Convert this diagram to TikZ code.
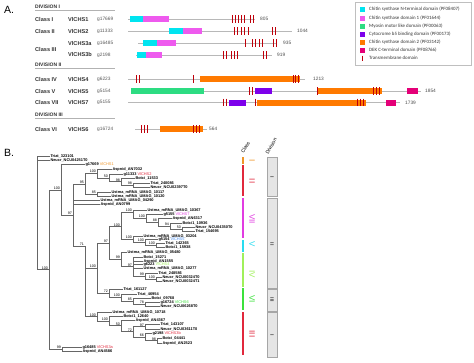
\documentclass[tikz,border=0pt]{standalone}
\usepackage{fontspec}
\setmainfont{Liberation Sans}
\newfontfamily\calib{Carlito}
\definecolor{dcyan}{RGB}{0,228,240}
\definecolor{dmag}{RGB}{238,90,238}
\definecolor{dgreen}{RGB}{45,220,130}
\definecolor{dpurp}{RGB}{125,0,235}
\definecolor{dorange}{RGB}{255,122,0}
\definecolor{dpink}{RGB}{228,0,120}
\definecolor{tmred}{RGB}{190,0,10}
\definecolor{cI}{RGB}{240,150,40}
\definecolor{cII}{RGB}{225,40,60}
\definecolor{cVII}{RGB}{225,60,225}
\definecolor{cV}{RGB}{40,220,240}
\definecolor{cIV}{RGB}{160,240,90}
\definecolor{cVI}{RGB}{60,225,60}
\definecolor{cV5}{RGB}{70,140,240}
\newcommand{\dom}[4]{\fill[#4] (#1,#3-3) rectangle (#2,#3+3);}
\newcommand{\tmk}[2]{\draw[tmk] (#1,#2-3.8) -- (#1,#2+3.8);}
\newcommand{\gln}[3]{\draw[gl] (#1,#3) -- (#2,#3);}
\newcommand{\bsv}[2]{\node[bsl] at (#1) {#2};}
\begin{document}
\begin{tikzpicture}[x=1pt,y=-1pt,
 tl/.style={draw=black!60,line width=0.35pt},
 lf/.style={anchor=west,inner sep=0.3pt,font=\fontsize{3.9}{4}\selectfont\bfseries},
 bsl/.style={anchor=south east,inner sep=0.2pt,xshift=-0.8pt,font=\fontsize{3.6}{4}\selectfont},
 gl/.style={draw=black!28,line width=0.8pt},
 tmk/.style={draw=tmred,line width=0.75pt},
 cls/.style={anchor=west,inner sep=0,font=\fontsize{5.6}{6}\selectfont\bfseries,text=black!80},
 gid/.style={anchor=west,inner sep=0,font=\fontsize{4.8}{5}\selectfont,text=black!65},
 len/.style={anchor=west,inner sep=0,font=\fontsize{4.8}{5}\selectfont,text=black!70},
 divl/.style={anchor=west,inner sep=0,font=\fontsize{5}{6}\selectfont\bfseries,text=black!80},
 leg/.style={anchor=west,inner sep=0,font=\calib\fontsize{4.9}{5}\selectfont,text=black!80},
 clab/.style={rotate=-90,inner sep=0,font=\fontsize{8}{8}\selectfont},
 dlab/.style={rotate=-90,inner sep=0,font=\fontsize{5}{6}\selectfont\bfseries,text=black!70},
 dbox/.style={fill=black!10,draw=black!35,line width=0.4pt},
 hdr/.style={rotate=60,anchor=south west,inner sep=0,font=\fontsize{5}{5}\selectfont}
]
\useasboundingbox (0,0) rectangle (474,362);
\fill[white] (0,0) rectangle (474,362);
% ---------------- Panel A ----------------
\node[anchor=west,inner sep=0,font=\fontsize{10.5}{11}\selectfont] (pa) at (4,10) {A.};
\node[divl] (d1) at (35,6.5) {DIVISION I};
\draw[black!30,line width=0.5pt] (35,10.5) -- (115,10.5);
\node[divl] (d2) at (35,64.5) {DIVISION II};
\draw[black!30,line width=0.5pt] (35,68.5) -- (115,68.5);
\node[divl] (d3) at (35,114.5) {DIVISION III};
\draw[black!30,line width=0.5pt] (35,118.5) -- (115,118.5);
% labels
\node[cls] (c1) at (35,19) {Class I};   \node[cls] (v1) at (68,19) {VlCHS1};  \node[gid] (g1) at (97,19) {g17669};
\node[cls] (c2) at (35,31) {Class II};  \node[cls] (v2) at (68,31) {VlCHS2};  \node[gid] (g2) at (97,31) {g11333};
\node[cls] (c3) at (35,49) {Class III}; \node[cls] (v3a) at (68,43) {VlCHS3a}; \node[gid] (g3a) at (97,43) {g16485};
\node[cls] (v3b) at (68,55) {VlCHS3b}; \node[gid] (g3b) at (97,55) {g2198};
\node[cls] (c4) at (35,79) {Class IV};  \node[cls] (v4) at (68,79) {VlCHS4};  \node[gid] (g4) at (97,79) {g6223};
\node[cls] (c5) at (35,91) {Class V};   \node[cls] (v5) at (68,91) {VlCHS5};  \node[gid] (g5) at (97,91) {g5154};
\node[cls] (c7) at (35,102.5) {Class VII}; \node[cls] (v7) at (68,102.5) {VlCHS7}; \node[gid] (g7) at (97,102.5) {g5155};
\node[cls] (c6) at (35,129) {Class VI}; \node[cls] (v6) at (68,129) {VlCHS6};  \node[gid] (g6) at (97,129) {g16724};
% Class I
\gln{128}{255}{19} \dom{130}{143}{19}{dcyan} \dom{143}{169}{19}{dmag}
\foreach \x in {232,235,238,241,244,250,253} {\tmk{\x}{19}}
\node[len] at (260,19) {805};
% Class II
\gln{128}{292}{31} \dom{169}{183}{31}{dcyan} \dom{183}{202}{31}{dmag}
\foreach \x in {234,237.5,241,244.5,248,272,275} {\tmk{\x}{31}}
\node[len] at (297,31) {1044};
% Class IIIa
\gln{138}{276}{43} \dom{143}{157}{43}{dcyan} \dom{157}{176}{43}{dmag}
\foreach \x in {245,252,255.5,259,262.5,273,276} {\tmk{\x}{43}}
\node[len] at (283,43) {935};
% Class IIIb
\gln{136}{272}{55} \dom{137}{146}{55}{dcyan} \dom{146}{162}{55}{dmag}
\foreach \x in {223,226,231,234,237,263,266} {\tmk{\x}{55}}
\node[len] at (277,55) {919};
% Class IV
\gln{128}{305}{79} \dom{200}{300}{79}{dorange}
\foreach \x in {136,139,193,293,295.5,298} {\tmk{\x}{79}}
\node[len] at (313,79) {1213};
% Class V
\gln{131}{421}{91} \dom{131}{204}{91}{dgreen} \dom{255}{272}{91}{dpurp}
\dom{318}{382}{91}{dorange} \dom{407}{418}{91}{dpink}
\foreach \x in {249,252,317,373,376,379} {\tmk{\x}{91}}
\node[len] at (425,91) {1854};
% Class VII
\gln{128}{400}{102.5} \dom{229}{246}{102.5}{dpurp} \dom{257}{366}{102.5}{dorange} \dom{386}{396}{102.5}{dpink}
\foreach \x in {223,226,255,357,360,363} {\tmk{\x}{102.5}}
\node[len] at (405,102.5) {1739};
% Class VI
\gln{135}{207}{129} \dom{160}{203}{129}{dorange}
\foreach \x in {141,144,147,193,196,199} {\tmk{\x}{129}}
\node[len] at (209,129) {564};
% legend
\draw[black!25,line width=0.5pt] (355,2) rectangle (471,65);
\fill[dcyan] (360,6.5) rectangle (365,11.5);   \node[leg] at (369,9) {Chitin synthase N-terminal domain (PF08407)};
\fill[dmag] (360,15.5) rectangle (365,20.5);   \node[leg] at (369,18) {Chitin synthase domain 1 (PF01644)};
\fill[dgreen] (360,23.5) rectangle (365,28.5); \node[leg] at (369,26) {Myosin motor like domain (PF00063)};
\fill[dpurp] (360,31.5) rectangle (365,36.5);  \node[leg] at (369,34) {Cytocrome b5 binding domain (PF00173)};
\fill[dorange] (360,39.5) rectangle (365,44.5);\node[leg] at (369,42) {Chitin synthase domain 2 (PF03142)};
\fill[dpink] (360,47.5) rectangle (365,52.5);  \node[leg] at (369,50) {DEK C-terminal domain (PF08766)};
\draw[tmk] (362.5,55.5) -- (362.5,60.5);       \node[leg] at (369,58) {Transmembrane domain};
% ---------------- Panel B ----------------
\node[anchor=west,inner sep=0,font=\fontsize{10.5}{11}\selectfont] (pb) at (4,153) {B.};
% internal nodes
\coordinate (R) at (37,212);
\coordinate (A) at (49,269.5);
\coordinate (B) at (61,190);
\coordinate (C) at (73,215);
\coordinate (D) at (85,184);
\coordinate (D1) at (97,173.4);
\coordinate (D2) at (109,177.8);
\coordinate (D3) at (121,181.5);
\coordinate (D4) at (133,185);
\coordinate (DU) at (97,194);
\coordinate (E) at (85,246);
\coordinate (U) at (97,268);
\coordinate (T) at (109,243);
\coordinate (S0) at (121,226.5);
\coordinate (S1) at (133,212);
\coordinate (S2) at (146,218);
\coordinate (S3) at (158,222);
\coordinate (S4) at (170,226);
\coordinate (S5) at (182,229);
\coordinate (P1) at (133,239);
\coordinate (P2) at (145,242);
\coordinate (P3) at (156,245);
\coordinate (I2) at (121,259);
\coordinate (I3) at (133,266.5);
\coordinate (I4) at (145,276);
\coordinate (I5) at (156,279);
\coordinate (V1) at (109,293);
\coordinate (V2) at (121,297);
\coordinate (V3) at (133,301);
\coordinate (V4) at (145,304);
\coordinate (W1) at (97,316.5);
\coordinate (W2) at (109,321);
\coordinate (W3) at (121,325.5);
\coordinate (W4) at (133,331.5);
\coordinate (W5) at (145,326.5);
\coordinate (W6) at (145,337);
\coordinate (W7) at (157,340.5);
\coordinate (Z) at (62,349);
% leaves
\node[lf] (l01) at (50,156) {Triat\_323101};
\node[lf] (l02) at (50,160) {Neucr\_NCU04251T0};
\node[lf] (l03) at (85,164) {g17669 \textcolor{cI}{\mdseries VlCHS1}};
\node[lf] (l04) at (112,169) {Aspnid\_AN7032};
\node[lf] (l05) at (123,174) {g11333 \textcolor{cII}{\mdseries VlCHS2}};
\node[lf] (l06) at (135,178) {Botci\_11533};
\node[lf] (l07) at (150,183) {Triat\_240086};
\node[lf] (l08) at (150,187) {Neucr\_NCU02397T0};
\node[lf] (l09) at (111,192) {Ustma\_mRNA\_UMAG\_10117};
\node[lf] (l10) at (111,196) {Ustma\_mRNA\_UMAG\_10120};
\node[lf] (l11) at (100,200) {Ustma\_mRNA\_UMAG\_04290};
\node[lf] (l12) at (100,204) {Aspnid\_AN0799};
\node[lf] (l13) at (147,210) {Ustma\_mRNA\_UMAG\_10367};
\node[lf] (l14) at (163,214) {g5155 \textcolor{cVII}{\mdseries VlCHS7}};
\node[lf] (l15) at (172,218) {Aspnid\_AN6317};
\node[lf] (l16) at (182,223) {Botci1\_10936};
\node[lf] (l17) at (195,227) {Neucr\_NCU04350T0};
\node[lf] (l18) at (195,231) {Triat\_154695};
\node[lf] (l19) at (143,236) {Ustma\_mRNA\_UMAG\_03204};
\node[lf] (l20) at (158,239) {g5154 \textcolor{cV5}{\mdseries VlCHS5}};
\node[lf] (l21) at (165,243) {Triat\_142365};
\node[lf] (l22) at (165,247) {Botci1\_15938};
\node[lf] (l23) at (127,252) {Ustma\_mRNA\_UMAG\_05480};
\node[lf] (l24) at (143,257) {Botci\_15271};
\node[lf] (l25) at (143,261) {Aspnid\_AN1555};
\node[lf] (l26) at (143,264.5) {g6223 \textcolor{cIV}{\mdseries VlCHS4}};
\node[lf] (l27) at (143,268.5) {Ustma\_mRNA\_UMAG\_10277};
\node[lf] (l28) at (158,273) {Triat\_248586};
\node[lf] (l29) at (162,277) {Neucr\_NCU00324T0};
\node[lf] (l30) at (162,281) {Neucr\_NCU00324T1};
\node[lf] (l31) at (123,289) {Triat\_161127};
\node[lf] (l32) at (137,294) {Triat\_46954};
\node[lf] (l33) at (151,298) {Botci\_09768};
\node[lf] (l34) at (160,302) {g16724 \textcolor{cVI}{\mdseries VlCHS6}};
\node[lf] (l35) at (160,306) {Neucr\_NCU06268T0};
\node[lf] (l36) at (112,312) {Ustma\_mRNA\_UMAG\_10718};
\node[lf] (l37) at (123,316) {Botci1\_12640};
\node[lf] (l38) at (135,320) {Aspnid\_AN4367};
\node[lf] (l39) at (160,324) {Triat\_143107};
\node[lf] (l40) at (160,329) {Neucr\_NCU03611T0};
\node[lf] (l41) at (152,333) {g2198 \textcolor{cII}{\mdseries VlCHS3b}};
\node[lf] (l42) at (162,338) {Botci\_04441};
\node[lf] (l43) at (162,343) {Aspnid\_AN2523};
\node[lf] (l44) at (82,347) {g16485 \textcolor{cII}{\mdseries VlCHS3a}};
\node[lf] (l45) at (82,351) {Aspnid\_AN4586};
% edges
\draw[tl] (R) |- (l01.west); \draw[tl] (R) |- (l02.west); \draw[tl] (R) |- (A);
\draw[tl] (A) |- (B); \draw[tl] (A) |- (Z);
\draw[tl] (B) |- (l03.west); \draw[tl] (B) |- (C);
\draw[tl] (C) |- (D); \draw[tl] (C) |- (E); \draw[tl] (C) |- (l11.west); \draw[tl] (C) |- (l12.west);
\draw[tl] (D) |- (D1); \draw[tl] (D) |- (DU);
\draw[tl] (D1) |- (l04.west); \draw[tl] (D1) |- (D2);
\draw[tl] (D2) |- (l05.west); \draw[tl] (D2) |- (D3);
\draw[tl] (D3) |- (l06.west); \draw[tl] (D3) |- (D4);
\draw[tl] (D4) |- (l07.west); \draw[tl] (D4) |- (l08.west);
\draw[tl] (DU) |- (l09.west); \draw[tl] (DU) |- (l10.west);
\draw[tl] (E) |- (U); \draw[tl] (E) |- (W1);
\draw[tl] (U) |- (T); \draw[tl] (U) |- (V1);
\draw[tl] (T) |- (S0); \draw[tl] (T) |- (I2);
\draw[tl] (S0) |- (S1); \draw[tl] (S0) |- (P1);
\draw[tl] (S1) |- (l13.west); \draw[tl] (S1) |- (S2);
\draw[tl] (S2) |- (l14.west); \draw[tl] (S2) |- (S3);
\draw[tl] (S3) |- (l15.west); \draw[tl] (S3) |- (S4);
\draw[tl] (S4) |- (l16.west); \draw[tl] (S4) |- (S5);
\draw[tl] (S5) |- (l17.west); \draw[tl] (S5) |- (l18.west);
\draw[tl] (P1) |- (l19.west); \draw[tl] (P1) |- (P2);
\draw[tl] (P2) |- (l20.west); \draw[tl] (P2) |- (P3);
\draw[tl] (P3) |- (l21.west); \draw[tl] (P3) |- (l22.west);
\draw[tl] (I2) |- (l23.west); \draw[tl] (I2) |- (I3);
\draw[tl] (I3) |- (l24.west); \draw[tl] (I3) |- (l25.west); \draw[tl] (I3) |- (l26.west); \draw[tl] (I3) |- (l27.west); \draw[tl] (I3) |- (I4);
\draw[tl] (I4) |- (l28.west); \draw[tl] (I4) |- (I5);
\draw[tl] (I5) |- (l29.west); \draw[tl] (I5) |- (l30.west);
\draw[tl] (V1) |- (l31.west); \draw[tl] (V1) |- (V2);
\draw[tl] (V2) |- (l32.west); \draw[tl] (V2) |- (V3);
\draw[tl] (V3) |- (l33.west); \draw[tl] (V3) |- (V4);
\draw[tl] (V4) |- (l34.west); \draw[tl] (V4) |- (l35.west);
\draw[tl] (W1) |- (l36.west); \draw[tl] (W1) |- (W2);
\draw[tl] (W2) |- (l37.west); \draw[tl] (W2) |- (W3);
\draw[tl] (W3) |- (l38.west); \draw[tl] (W3) |- (W4);
\draw[tl] (W4) |- (W5); \draw[tl] (W4) |- (W6);
\draw[tl] (W5) |- (l39.west); \draw[tl] (W5) |- (l40.west);
\draw[tl] (W6) |- (l41.west); \draw[tl] (W6) |- (W7);
\draw[tl] (W7) |- (l42.west); \draw[tl] (W7) |- (l43.west);
\draw[tl] (Z) |- (l44.west); \draw[tl] (Z) |- (l45.west);
% bootstrap values
\bsv{A}{100} \bsv{B}{100} \bsv{C}{97} \bsv{D}{95} \bsv{E}{71}
\bsv{D1}{100} \bsv{D2}{50} \bsv{D3}{98} \bsv{D4}{98} \bsv{DU}{85}
\bsv{U}{100} \bsv{T}{97} \bsv{S0}{100} \bsv{S1}{100} \bsv{S2}{100} \bsv{S3}{88} \bsv{S4}{94} \bsv{S5}{50}
\bsv{P1}{100} \bsv{P2}{100} \bsv{P3}{100}
\bsv{I2}{99} \bsv{I3}{97} \bsv{I4}{99} \bsv{I5}{100}
\bsv{V1}{72} \bsv{V2}{100} \bsv{V3}{85} \bsv{V4}{78}
\bsv{W1}{100} \bsv{W2}{100} \bsv{W3}{50} \bsv{W4}{72} \bsv{W5}{97} \bsv{W6}{66} \bsv{W7}{98}
\bsv{Z}{99}
% class column
\node[hdr] (hcl) at (244,154) {Class};
\node[hdr] (hdv) at (268.5,155) {Division};
\draw[cI,line width=1.3pt] (243,157) -- (243,164);
\draw[cII,line width=1.3pt] (243,165) -- (243,196);
\draw[cVII,line width=1.3pt] (243,198) -- (243,238);
\draw[cV,line width=1.3pt] (243,240) -- (243,252);
\draw[cIV,line width=1.3pt] (243,253) -- (243,287);
\draw[cVI,line width=1.3pt] (243,288) -- (243,310);
\draw[cII,line width=1.3pt] (243,312) -- (243,355);
\node[clab,text=cI] (k1) at (252,161) {I};
\node[clab,text=cII] (k2) at (252,181) {II};
\node[clab,text=cVII] (k7) at (252,219) {VII};
\node[clab,text=cV] (k5) at (252,244) {V};
\node[clab,text=cIV] (k4) at (252,274) {IV};
\node[clab,text=cVI] (k6) at (252,299) {VI};
\node[clab,text=cII] (k3) at (252,334) {III};
% division column
\draw[dbox] (267,157) rectangle (277,196);
\draw[dbox] (267,198) rectangle (277,288);
\draw[dbox] (267,289.5) rectangle (277,311);
\draw[dbox] (267,312.5) rectangle (277,357);
\node[dlab] (q1) at (272,177) {I};
\node[dlab] (q2) at (272,244) {II};
\node[dlab] (q3) at (272,300) {III};
\node[dlab] (q4) at (272,335) {I};
\end{tikzpicture}
\end{document}
